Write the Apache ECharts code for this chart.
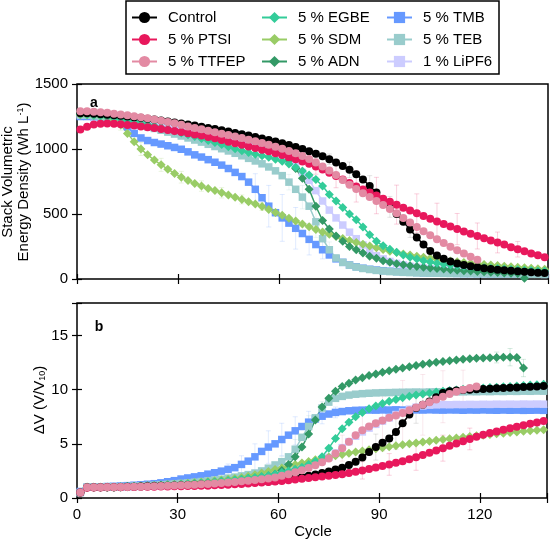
<!DOCTYPE html>
<html><head><meta charset="utf-8">
<script src="https://cdn.jsdelivr.net/npm/echarts@6/dist/echarts.min.js"></script>
<style>html,body{margin:0;padding:0;background:#fff}#c{width:550px;height:540px}</style>
</head><body><div id="c"></div>
<script>
// ---------- data ----------
const cycles = [1,3,5,7,9,11,13,15,17,19,21,23,25,27,29,31,33,35,37,39,41,43,45,47,49,51,53,55,57,59,61,63,65,67,69,71,73,75,77,79,81,83,85,87,89,91,93,95,97,99,101,103,105,107,109,111,113,115,117,119,121,123,125,127,129,131,133,135,137,139];

// Panel a: stack volumetric energy density (Wh/L)
const energyControl = [1275,1275,1272,1268,1264,1260,1255,1250,1245,1240,1233,1226,1219,1212,1204,1196,1188,1180,1171,1162,1153,1144,1134,1124,1114,1103,1092,1081,1069,1057,1044,1030,1015,1000,983,964,945,922,897,870,840,805,765,715,665,610,555,500,440,380,320,265,215,180,155,135,120,108,98,90,83,77,72,67,63,59,55,52,49,46];
const energyPTSI = [1150,1172,1188,1195,1196,1194,1190,1185,1180,1174,1168,1161,1154,1146,1138,1130,1121,1112,1103,1093,1083,1069,1055,1044,1032,1020,1007,995,983,968,953,937,921,904,886,866,843,818,792,765,738,712,688,665,642,618,595,572,549,527,505,484,463,443,423,403,384,366,348,331,314,297,281,265,245,229,213,197,182,167];
const energyTTFEP = [1290,1290,1287,1283,1278,1272,1266,1259,1252,1244,1236,1227,1218,1208,1198,1187,1174,1162,1151,1140,1129,1118,1107,1096,1084,1072,1060,1047,1033,1018,1002,985,967,947,924,897,866,834,800,762,725,692,660,630,600,570,538,505,470,435,400,368,336,305,276,248,222,196,172,148];
const energyEGBE = [1268,1265,1260,1254,1247,1239,1230,1220,1210,1199,1188,1176,1164,1151,1138,1124,1110,1096,1081,1066,1050,1034,1018,1002,987,973,960,948,936,922,905,885,860,830,800,765,715,650,600,550,500,455,400,340,290,255,228,205,185,168,153,140,130,122,114,108,103,98,94,90,86,83,80,77,74,71,68,65,62,59];
const energySDM = [1262,1262,1258,1252,1243,1225,1185,1120,1055,1000,955,915,878,845,812,783,757,735,715,697,680,663,646,629,612,595,577,557,535,512,490,468,446,424,402,381,362,344,327,311,296,281,267,253,240,227,214,203,193,184,175,167,159,152,145,139,133,127,122,117,112,107,103,99,95,91,87,83,79,75];
const energyADN = [1278,1277,1274,1270,1265,1260,1254,1248,1241,1234,1226,1218,1210,1201,1192,1183,1173,1163,1153,1142,1131,1120,1108,1096,1083,1070,1056,1042,1025,1003,970,915,850,775,690,560,450,385,330,290,250,225,200,175,160,140,128,118,110,102,96,90,85,80,76,71,67,64,61,58,55,52,50,47,45,42,5];
const energyTMB = [1250,1250,1248,1245,1240,1228,1205,1170,1120,1085,1065,1050,1038,1025,1012,998,978,955,938,918,898,876,850,820,788,745,690,625,560,510,470,430,390,350,305,265,225,185,155,128,108,94,83,75,69,64,60,57,54,52,50,48,47,46,45,44,43,42,42,41,41,40,40,39,39,38,38,37,37,36];
const energyTEB = [1265,1262,1255,1247,1238,1229,1219,1208,1196,1184,1171,1158,1144,1130,1115,1100,1085,1069,1053,1036,1019,1002,985,967,948,928,908,886,862,832,795,745,690,630,560,440,310,225,162,128,107,92,81,73,66,61,57,54,51,49,47,46,45,44,43,42,42,41,41,40,40,39,39,38,38,37,37,36,36,35];
const energyLiPF6 = [1262,1262,1259,1255,1250,1245,1239,1233,1226,1219,1211,1203,1195,1186,1177,1167,1157,1147,1136,1125,1113,1101,1088,1075,1061,1046,1030,1013,995,975,950,915,870,820,760,680,600,530,470,415,360,310,262,215,180,155,135,120,108,98,90,84,78,73,69,65,62,59,56,54,52,50,48,47,46,45,44,43,42,42];

// Panel b: dV (V/V10)
const dvControl = [0.5,1.0,1.0,1.0,1.0,1.0,1.02,1.03,1.05,1.07,1.08,1.1,1.12,1.14,1.16,1.18,1.2,1.22,1.24,1.26,1.28,1.31,1.34,1.37,1.4,1.43,1.46,1.49,1.52,1.58,1.65,1.75,1.85,1.95,2.06,2.18,2.3,2.45,2.62,2.8,3.05,3.35,3.75,4.25,4.7,5.1,5.5,6.1,6.9,7.7,8.3,8.6,8.9,9.3,9.7,9.85,9.92,9.96,10.0,10.03,10.06,10.09,10.12,10.15,10.18,10.21,10.24,10.27,10.3,10.33];
const dvPTSI = [0.5,0.95,0.97,0.98,0.99,1.0,1.0,1.01,1.02,1.03,1.04,1.05,1.06,1.07,1.08,1.09,1.1,1.11,1.12,1.14,1.17,1.2,1.23,1.26,1.3,1.34,1.38,1.42,1.47,1.52,1.58,1.64,1.7,1.77,1.84,1.91,1.98,2.05,2.12,2.2,2.3,2.42,2.55,2.68,2.82,2.96,3.1,3.25,3.4,3.58,3.76,3.96,4.17,4.38,4.6,4.82,5.03,5.24,5.45,5.65,5.84,6.0,6.15,6.3,6.44,6.58,6.72,6.86,6.98,7.1];
const dvTTFEP = [0.5,1.0,1.0,1.0,1.0,1.0,1.01,1.02,1.04,1.05,1.07,1.09,1.11,1.13,1.15,1.17,1.2,1.23,1.26,1.3,1.34,1.38,1.43,1.48,1.54,1.6,1.66,1.73,1.8,1.9,2.05,2.2,2.38,2.57,2.78,3.02,3.3,3.65,4.1,4.6,5.2,5.8,6.25,6.6,6.9,7.15,7.4,7.62,7.85,8.1,8.35,8.6,8.85,9.1,9.35,9.6,9.8,10.0,10.15,10.3];
const dvEGBE = [0.5,1.0,1.0,1.0,1.0,1.0,1.02,1.04,1.06,1.08,1.1,1.13,1.16,1.19,1.22,1.26,1.3,1.34,1.38,1.43,1.48,1.54,1.6,1.67,1.74,1.82,1.9,1.99,2.08,2.2,2.35,2.5,2.65,2.85,3.1,3.4,3.8,4.6,5.5,6.4,7.0,7.5,7.9,8.25,8.5,8.72,8.92,9.1,9.25,9.4,9.5,9.6,9.7,9.78,9.86,9.93,9.98,10.03,10.07,10.11,10.15,10.19,10.22,10.26,10.3,10.34,10.38,10.42,10.46,10.5];
const dvSDM = [0.5,1.0,1.0,1.0,1.0,1.0,1.02,1.04,1.07,1.1,1.13,1.16,1.2,1.24,1.28,1.32,1.37,1.42,1.47,1.53,1.59,1.66,1.73,1.81,1.9,2.0,2.15,2.3,2.45,2.62,2.78,2.95,3.1,3.24,3.38,3.52,3.65,3.78,3.9,4.02,4.13,4.24,4.35,4.45,4.55,4.65,4.74,4.83,4.92,5.0,5.08,5.16,5.24,5.32,5.4,5.47,5.54,5.61,5.68,5.74,5.8,5.86,5.92,5.98,6.04,6.1,6.16,6.21,6.26,6.31];
const dvADN = [0.5,1.0,1.0,1.0,1.0,1.0,1.02,1.04,1.06,1.08,1.1,1.12,1.15,1.18,1.21,1.24,1.28,1.32,1.36,1.41,1.46,1.52,1.58,1.64,1.71,1.78,1.85,1.93,2.02,2.2,2.55,3.1,3.8,4.7,5.9,7.2,8.4,9.2,9.85,10.3,10.6,10.9,11.1,11.3,11.45,11.6,11.75,11.88,12.0,12.12,12.24,12.34,12.44,12.53,12.61,12.68,12.74,12.8,12.85,12.89,12.92,12.95,12.97,12.99,13.0,12.98,12.0];
const dvTMB = [0.6,1.0,1.02,1.04,1.06,1.08,1.11,1.14,1.18,1.22,1.27,1.32,1.4,1.5,1.6,1.75,1.85,1.95,2.05,2.2,2.33,2.48,2.64,2.8,3.1,3.4,3.8,4.3,4.7,5.0,5.4,5.8,6.2,6.6,7.0,7.3,7.55,7.75,7.9,7.98,8.05,8.09,8.11,8.12,8.11,8.13,8.12,8.14,8.12,8.11,8.13,8.12,8.14,8.12,8.11,8.13,8.12,8.1,8.12,8.11,8.13,8.11,8.1,8.12,8.1,8.11,8.09,8.1,8.11,8.09];
const dvTEB = [0.5,1.0,1.0,1.01,1.02,1.03,1.05,1.07,1.09,1.12,1.15,1.18,1.22,1.26,1.3,1.35,1.4,1.46,1.52,1.59,1.66,1.74,1.83,1.93,2.04,2.16,2.3,2.5,2.75,3.05,3.35,3.8,4.5,5.6,6.6,7.4,8.3,8.85,9.2,9.38,9.5,9.58,9.63,9.67,9.7,9.72,9.73,9.75,9.76,9.77,9.78,9.77,9.79,9.8,9.79,9.8,9.81,9.8,9.82,9.81,9.83,9.82,9.84,9.83,9.85,9.84,9.86,9.85,9.87,9.86];
const dvLiPF6 = [0.5,1.0,1.0,1.0,1.0,1.0,1.02,1.04,1.06,1.08,1.1,1.12,1.15,1.18,1.21,1.24,1.28,1.32,1.36,1.41,1.46,1.52,1.58,1.65,1.72,1.8,1.88,1.97,2.07,2.18,2.3,2.45,2.6,2.78,2.98,3.2,3.45,3.75,4.15,4.65,5.2,5.7,6.1,6.45,6.8,7.1,7.4,7.7,7.95,8.2,8.38,8.5,8.57,8.6,8.62,8.61,8.63,8.62,8.64,8.63,8.65,8.64,8.66,8.65,8.66,8.65,8.67,8.66,8.67,8.66];

// error bars: [cycle, half-width]
const errA_PTSI = [[71,60],[77,90],[83,120],[89,140],[95,150],[101,150],[107,140],[113,120],[119,100],[125,80],[131,60]];
const errA_TMB = [[53,120],[57,160],[61,180],[65,160],[69,120],[73,70]];
const errA_SDM = [[13,40],[19,50],[25,50],[31,45],[37,40],[43,40],[49,35],[55,30]];
const errA_Control = [[75,40],[81,60],[87,80],[93,80],[99,60]];
const errA_TEB = [[63,60],[67,90],[71,120],[75,60]];
const errB_TMB = [[41,0.3],[45,0.5],[49,0.8],[53,1.2],[57,1.5],[61,1.5],[65,1.3],[69,1.0],[73,0.7],[77,0.5]];
const errB_PTSI = [[85,0.8],[93,1.0],[101,1.2],[109,1.2],[117,1.0]];
const errB_TTFEP = [[79,1.2],[85,2.0],[91,2.8],[97,3.0],[103,2.8],[109,2.4],[115,1.8]];
const errB_Control = [[89,1.2],[95,1.6],[101,1.4]];
const errB_ADN = [[125,0.5],[129,0.8],[133,0.8]];
const errB_TEB = [[61,0.5],[65,0.9],[69,1.0],[73,0.6]];

const seriesNames = ['Control','5 % PTSI','5 % TTFEP','5 % EGBE','5 % SDM','5 % ADN','5 % TMB','5 % TEB','1 % LiPF6'];
const xTicks = [0,30,60,90,120];
const yTicksA = [0,500,1000,1500];
const yTicksB = [0,5,10,15];

// ---------- styling ----------
const FONT = "'Liberation Sans', Arial, Helvetica, sans-serif";
const style = {
  'Control':   {color:'#000000', symbol:'circle',  size:8},
  '5 % PTSI':  {color:'#e8185c', symbol:'circle',  size:8},
  '5 % TTFEP': {color:'#e38aa3', symbol:'circle',  size:8},
  '5 % EGBE':  {color:'#33cc99', symbol:'diamond', size:9},
  '5 % SDM':   {color:'#99cc66', symbol:'diamond', size:9},
  '5 % ADN':   {color:'#339966', symbol:'diamond', size:9},
  '5 % TMB':   {color:'#6699ff', symbol:'rect',    size:7.5},
  '5 % TEB':   {color:'#99cccc', symbol:'rect',    size:7.5},
  '1 % LiPF6': {color:'#ccccff', symbol:'rect',    size:7.5}
};
const dataA = {'Control':energyControl,'5 % PTSI':energyPTSI,'5 % TTFEP':energyTTFEP,'5 % EGBE':energyEGBE,'5 % SDM':energySDM,'5 % ADN':energyADN,'5 % TMB':energyTMB,'5 % TEB':energyTEB,'1 % LiPF6':energyLiPF6};
const dataB = {'Control':dvControl,'5 % PTSI':dvPTSI,'5 % TTFEP':dvTTFEP,'5 % EGBE':dvEGBE,'5 % SDM':dvSDM,'5 % ADN':dvADN,'5 % TMB':dvTMB,'5 % TEB':dvTEB,'1 % LiPF6':dvLiPF6};
const drawOrder = ['5 % TMB','1 % LiPF6','5 % TEB','5 % SDM','5 % ADN','5 % EGBE','Control','5 % PTSI','5 % TTFEP'];

function pairs(vals){ return vals.map((v,i)=>[cycles[i], v]); }

function errSeries(gi, vals, errs, color){
  const data = errs.map(([c,e]) => [c, vals[cycles.indexOf(c)], e]);
  return {type:'custom', xAxisIndex:gi*2, yAxisIndex:gi*2, data, z:1, silent:true, animation:false, clip:true,
    renderItem:(params, api) => {
      const x = api.value(0), y = api.value(1), e = api.value(2);
      const p1 = api.coord([x, y-e]), p2 = api.coord([x, y+e]);
      const st = {stroke:color, lineWidth:1, opacity:0.2};
      return {type:'group', children:[
        {type:'line', shape:{x1:p1[0],y1:p1[1],x2:p2[0],y2:p2[1]}, style:st},
        {type:'line', shape:{x1:p1[0]-2.5,y1:p1[1],x2:p1[0]+2.5,y2:p1[1]}, style:st},
        {type:'line', shape:{x1:p2[0]-2.5,y1:p2[1],x2:p2[0]+2.5,y2:p2[1]}, style:st}
      ]};
    }};
}

const series = [
  errSeries(0, energyPTSI, errA_PTSI, '#e8185c'),
  errSeries(0, energyTMB, errA_TMB, '#6699ff'),
  errSeries(0, energySDM, errA_SDM, '#99cc66'),
  errSeries(0, energyControl, errA_Control, '#777777'),
  errSeries(0, energyTEB, errA_TEB, '#99cccc'),
  errSeries(1, dvTMB, errB_TMB, '#6699ff'),
  errSeries(1, dvPTSI, errB_PTSI, '#e8185c'),
  errSeries(1, dvTTFEP, errB_TTFEP, '#e38aa3'),
  errSeries(1, dvControl, errB_Control, '#777777'),
  errSeries(1, dvADN, errB_ADN, '#339966'),
  errSeries(1, dvTEB, errB_TEB, '#99cccc')
];
[dataA, dataB].forEach((d, gi) => {
  drawOrder.forEach(name => {
    const s = style[name];
    series.push({
      name, type:'line', xAxisIndex:gi*2, yAxisIndex:gi*2, z:3,
      data:pairs(d[name]), symbol:s.symbol, symbolSize:s.size,
      showSymbol:true, color:s.color,
      lineStyle:{width:1.5, color:s.color}, itemStyle:{color:s.color},
      emphasis:{disabled:true}, animation:false, clip:true
    });
  });
});

const grids = [
  {left:77, right:2, top:84, height:195, show:true, borderColor:'#000', borderWidth:1.5, backgroundColor:'transparent'},
  {left:77, right:2, top:303, height:195, show:true, borderColor:'#000', borderWidth:1.5, backgroundColor:'transparent'}
];
function xAx(gi, pos, labels){
  return {type:'value', gridIndex:gi, position:pos, min:0, max:140, interval:30,
    axisLine:{show:false}, splitLine:{show:false},
    axisTick:{show:true, inside:true, length:5, lineStyle:{color:'#000', width:1.2}},
    axisLabel:{show:labels, margin:9, fontSize:15, color:'#000', fontFamily:FONT,
      formatter:v => xTicks.includes(v) ? String(v) : ''}};
}
function yAx(gi, pos, labels, max, interval, ticks){
  return {type:'value', gridIndex:gi, position:pos, min:0, max, interval,
    axisLine:{show:false}, splitLine:{show:false},
    axisTick:{show:true, inside:true, length:5, lineStyle:{color:'#000', width:1.2}},
    axisLabel:{show:labels, margin:9, fontSize:15, color:'#000', fontFamily:FONT,
      formatter:v => ticks.includes(v) ? String(v) : ''}};
}

const legendBase = {orient:'vertical', itemGap:7, itemWidth:25, itemHeight:14, padding:0,
  textStyle:{fontSize:15, fontFamily:FONT, color:'#000', padding:[0,0,0,6]}, selectedMode:false};

const option = {
  animation:false,
  backgroundColor:'#fff',
  grid:grids,
  xAxis:[xAx(0,'bottom',false), xAx(0,'top',false), xAx(1,'bottom',true), xAx(1,'top',false)],
  yAxis:[yAx(0,'left',true,1500,500,yTicksA), yAx(0,'right',false,1500,500,yTicksA),
         yAx(1,'left',true,18,5,yTicksB), yAx(1,'right',false,18,5,yTicksB)],
  legend:[
    Object.assign({}, legendBase, {left:131, top:10, data:seriesNames.slice(0,3)}),
    Object.assign({}, legendBase, {left:261, top:10, data:seriesNames.slice(3,6)}),
    Object.assign({}, legendBase, {left:386, top:10, data:seriesNames.slice(6,9)})
  ],
  graphic:[
    {type:'rect', shape:{x:126, y:1, width:373, height:73}, style:{fill:'none', stroke:'#000', lineWidth:1.5}, z:100},
    {type:'text', x:16, y:182, rotation:Math.PI/2, z:100,
      style:{text:'Stack Volumetric\nEnergy Density (Wh L{sup|-1})', fontSize:15, fontFamily:FONT, fill:'#000',
        align:'center', verticalAlign:'middle', lineHeight:16,
        rich:{sup:{fontSize:9, fontFamily:FONT, fill:'#000', verticalAlign:'top', lineHeight:16, padding:[0,0,6,0]}}}},
    {type:'text', x:40, y:400, rotation:Math.PI/2, z:100,
      style:{text:'ΔV (V/V{sub|10})', fontSize:15, fontFamily:FONT, fill:'#000',
        align:'center', verticalAlign:'middle',
        rich:{sub:{fontSize:9, fontFamily:FONT, fill:'#000', verticalAlign:'bottom', padding:[6,0,0,0]}}}},
    {type:'text', x:313, y:532, z:100, style:{text:'Cycle', fontSize:15, fontFamily:FONT, fill:'#000', align:'center', verticalAlign:'middle'}},
    {type:'text', x:94, y:103, z:100, style:{text:'a', fontSize:14, fontWeight:'bold', fontFamily:FONT, fill:'#000', align:'center', verticalAlign:'middle'}},
    {type:'text', x:99, y:327, z:100, style:{text:'b', fontSize:14, fontWeight:'bold', fontFamily:FONT, fill:'#000', align:'center', verticalAlign:'middle'}}
  ],
  series
};
const chart = echarts.init(document.getElementById('c'), null, {renderer:'canvas'});
chart.setOption(option);
</script></body></html>
